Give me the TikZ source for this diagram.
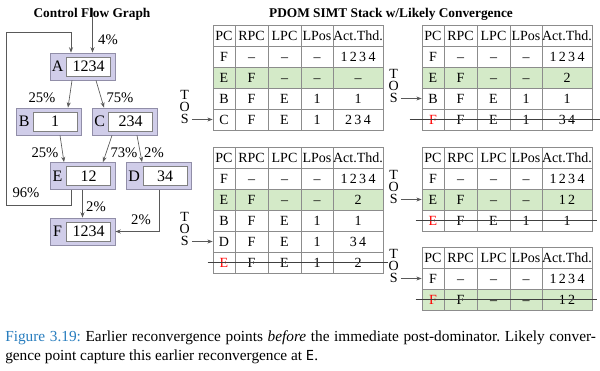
\documentclass[tikz,border=0pt]{standalone}
\usepackage{fontspec}
\setmainfont{Liberation Serif}
\setmonofont[Scale=0.9]{DejaVu Sans Mono}
\usepackage{xcolor}
\usetikzlibrary{positioning,arrows.meta,calc}

\definecolor{blocklav}{RGB}{208,205,233}
\definecolor{blockedge}{RGB}{145,142,168}
\definecolor{rowgreen}{RGB}{212,234,200}
\definecolor{gridgray}{RGB}{140,140,140}
\definecolor{figblue}{RGB}{40,125,190}

\tikzset{
  bbox/.style={draw=blockedge, fill=blocklav, line width=0.6pt, minimum width=48.75pt, minimum height=20.25pt, inner sep=0pt},
  ibox/.style={draw=gray, fill=white, line width=0.5pt, minimum width=33pt, minimum height=14.25pt, inner sep=0pt, font=\fontsize{12}{14}\selectfont},
  blbl/.style={inner sep=0pt, font=\fontsize{12}{14}\selectfont},
  arr/.style={draw=black!65, line width=0.5pt, -{Stealth[length=4pt,width=3pt]}},
  pct/.style={inner sep=0pt, font=\fontsize{11}{13}\selectfont},
  cell/.style={draw=gridgray, line width=0.5pt, minimum height=15.75pt, inner sep=0pt, text height=7pt, text depth=0pt, font=\fontsize{10.5}{12}\selectfont},
  tos/.style={inner sep=0pt, align=center, font=\fontsize{10.5}{9}\selectfont},
  strike/.style={draw=black!75, line width=0.5pt},
  ttl/.style={font=\bfseries\fontsize{10}{12}\selectfont}
}

% one stack table: name, left x, top y, rows (fill/PC/RPC/LPC/LPos/threads)
\newcommand{\stacktable}[4]{%
  \foreach \fl/\pc/\rpc/\lpc/\lpos/\thd [count=\r from 0] in {white/PC/RPC/LPC/LPos/Act.Thd.,#4} {
    \pgfmathsetmacro{\yy}{#3+10.5+21*\r}
    \node[cell, fill=\fl, minimum width=16.5pt] (#1-\r-1) at (#2+11,\yy) {\pc};
    \node[cell, fill=\fl, minimum width=24.75pt] (#1-\r-2) at (#2+38.5,\yy) {\rpc};
    \node[cell, fill=\fl, minimum width=24.75pt] (#1-\r-3) at (#2+71.5,\yy) {\lpc};
    \node[cell, fill=\fl, minimum width=24pt] (#1-\r-4) at (#2+104,\yy) {\lpos};
    \node[cell, fill=\fl, minimum width=37.5pt] (#1-\r-5) at (#2+145,\yy) {\thd};
  }%
}

\begin{document}
\begin{tikzpicture}[x=0.75pt, y=-0.75pt]
  \useasboundingbox (0,0) rectangle (600,371);

  % Titres
  \node[ttl] (cfg-title) at (92,14) {Control Flow Graph};
  \node[ttl] (stk-title) at (391,14) {PDOM SIMT Stack w/Likely Convergence};

  % Blocs du graphe de controle
  \foreach \blk/\thr/\x/\y in {A/1234/82.5/66.5, B/1/49/121.5, C/234/124.5/121.5,
                               E/12/82.5/176, D/34/159/176, F/1234/82.5/231.5} {
    \node[bbox] (\blk) at (\x,\y) {};
    \node[ibox, anchor=east] (\blk-in) at ($(\blk.east)+(-4.5,0)$) {\thr};
    \node[blbl] (\blk-lb) at ($(\blk.west)+(8,0)$) {\blk};
  }

  % Aretes
  \coordinate (entry) at (92.5,8);
  \coordinate (loopx) at (71,205);
  \coordinate (loopl) at (6,32);
  \draw[arr] (entry) -- (entry |- A.north);
  \draw[arr] (E.south -| loopx) -- (loopx) -| (loopl) -| (A.north -| loopx);
  \draw[arr] ($(A.south)+(-10.5,0)$) -- ($(B.north)+(19,0)$);
  \draw[arr] ($(A.south)+(13.5,0)$) -- ($(C.north)+(-20.5,0)$);
  \draw[arr] ($(B.south)+(11,0)$) -- ($(E.north)+(-18.5,0)$);
  \draw[arr] ($(C.south)+(-12.5,0)$) -- ($(E.north)+(20.5,0)$);
  \draw[arr] ($(C.south)+(12.5,0)$) -- ($(D.north)+(-17,0)$);
  \draw[arr] (E.south) -- (F.north);
  \draw[arr] (D.south) |- (F.east);

  % Probabilites
  \node[pct] (p-entry) at (108,40) {4\%};
  \node[pct] (p-loop) at (26,193) {96\%};
  \node[pct] (p-ab) at (42,98) {25\%};
  \node[pct] (p-ac) at (120,98) {75\%};
  \node[pct] (p-be) at (45,153) {25\%};
  \node[pct] (p-ce) at (124,153) {73\%};
  \node[pct] (p-cd) at (154,153) {2\%};
  \node[pct] (p-ef) at (96,207) {2\%};
  \node[pct] (p-df) at (141,220) {2\%};

  % Piles SIMT
  \stacktable{t1}{213}{25}{white/F/--/--/--/{1\,2\,3\,4}, rowgreen/E/F/--/--/--,
    white/B/F/E/1/1, white/C/F/E/1/{2\,3\,4}}
  \stacktable{t2}{422}{25}{white/F/--/--/--/{1\,2\,3\,4}, rowgreen/E/F/--/--/2,
    white/B/F/E/1/1, white/{\color{red}F}/F/E/1/{3\,4}}
  \stacktable{t3}{213}{147}{white/F/--/--/--/{1\,2\,3\,4}, rowgreen/E/F/--/--/2,
    white/B/F/E/1/1, white/D/F/E/1/{3\,4}, white/{\color{red}E}/F/E/1/2}
  \stacktable{t4}{422}{147}{white/F/--/--/--/{1\,2\,3\,4}, rowgreen/E/F/--/--/{1\,2},
    white/{\color{red}E}/F/E/1/1}
  \stacktable{t5}{422}{247}{white/F/--/--/--/{1\,2\,3\,4}, rowgreen/{\color{red}F}/F/--/--/{1\,2}}

  % Lignes barrees
  \foreach \tb/\r/\l/\rr in {t2/4/12/8, t3/5/5/5, t4/3/6/5, t5/2/6/5} {
    \draw[strike] ($(\tb-\r-1.west)+(-\l,0)$) -- ($(\tb-\r-5.east)+(\rr,0)$);
  }

  % Sommets de pile
  \foreach \tb/\r in {t1/4, t2/3, t3/4, t4/2, t5/1} {
    \node[tos, anchor=south] (tos-\tb) at ($(\tb-\r-1.west)+(-28,4.5)$) {T\\O\\S};
    \draw[arr, shorten <=1.5pt] (tos-\tb.south east |- \tb-\r-1.west) -- (\tb-\r-1.west);
  }

  % Legende
  \node[anchor=base west, inner sep=0pt] (caption) at (5,341) {\parbox[t]{443pt}{\fontsize{11.5}{14.25}\selectfont\frenchspacing
    \textcolor{figblue}{Figure 3.19:} Earlier reconvergence points \textit{before} the immediate post-dominator. Likely conver-\linebreak
    gence point capture this earlier reconvergence at \texttt{E}.}};
\end{tikzpicture}
\end{document}
